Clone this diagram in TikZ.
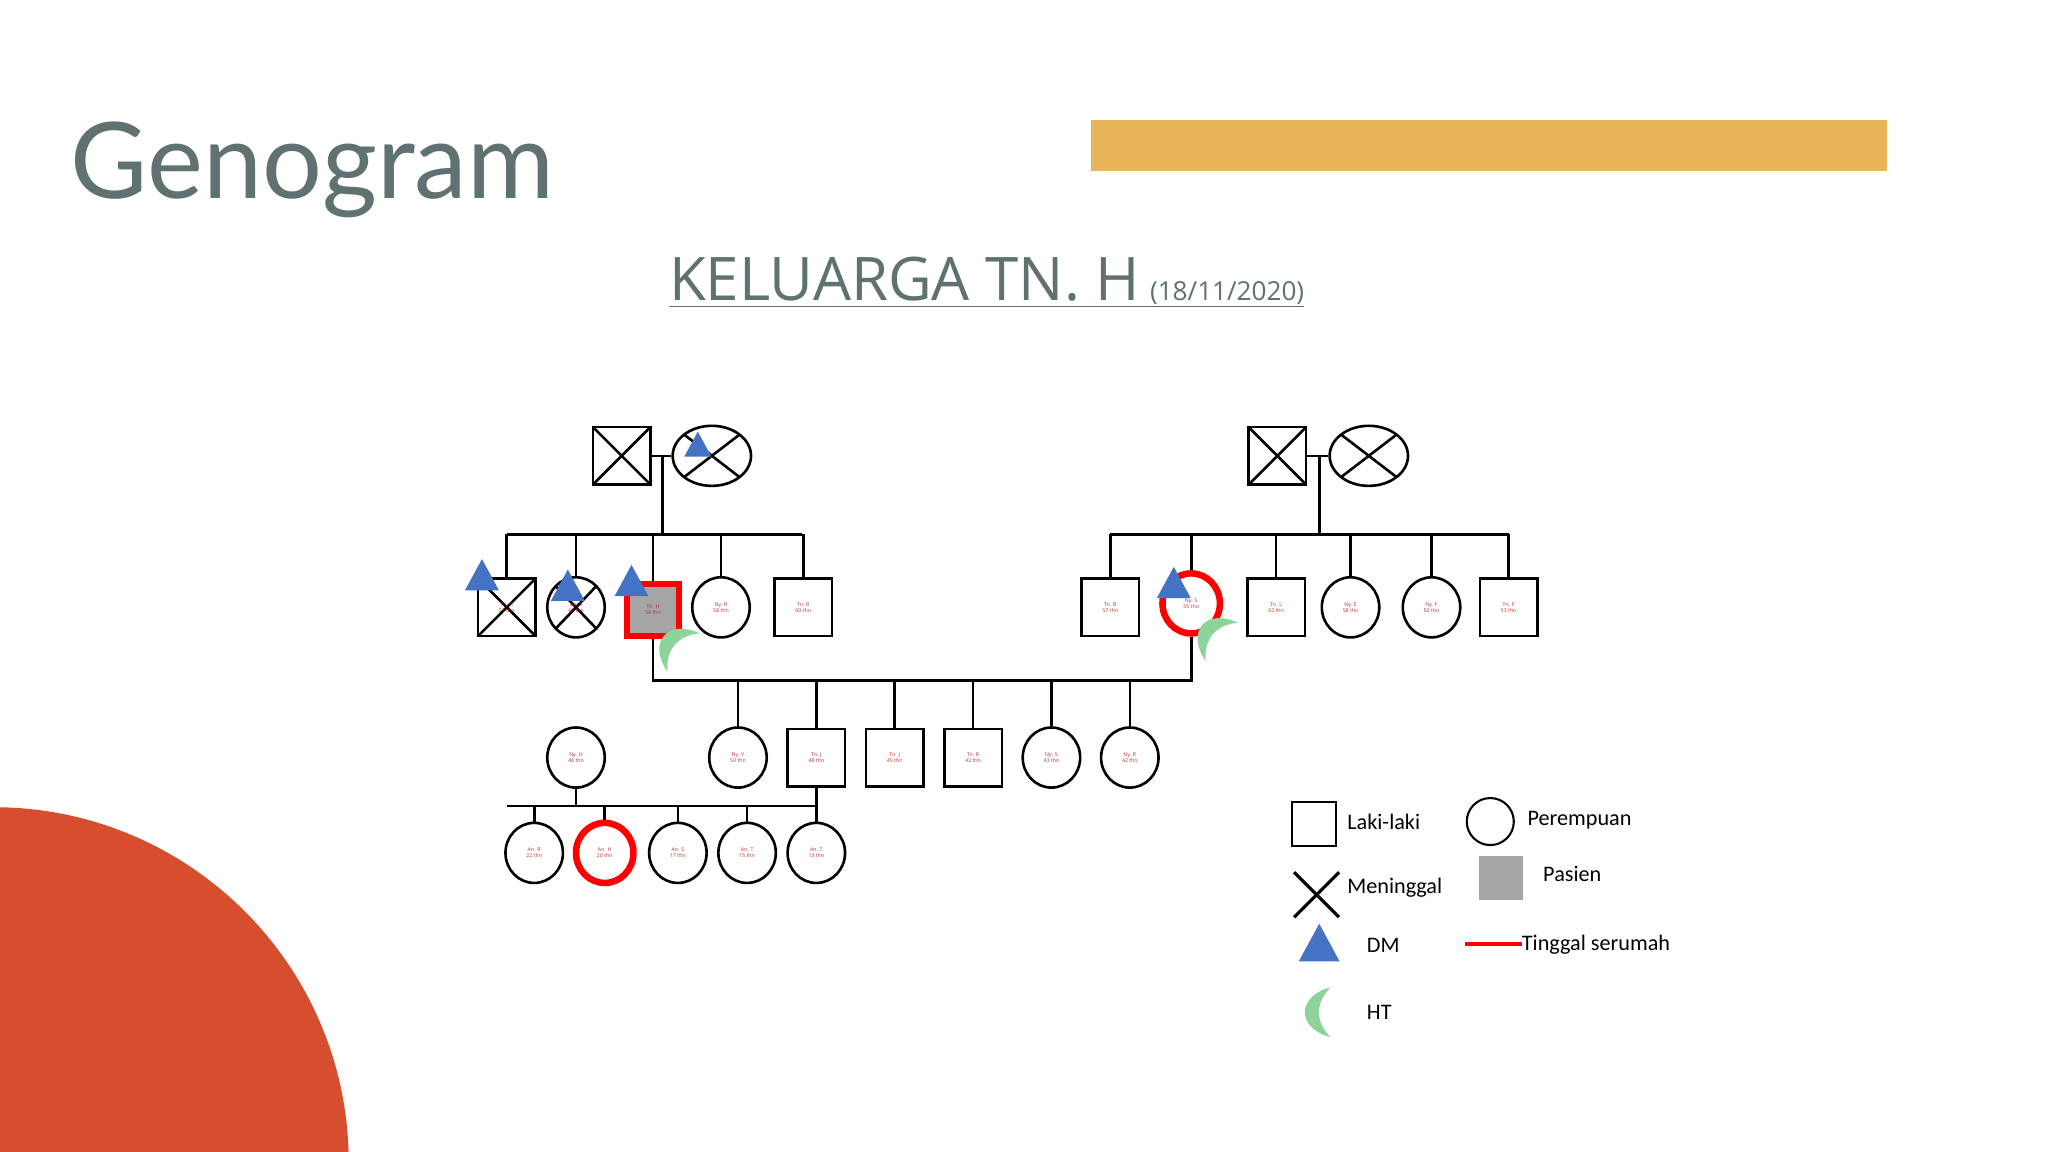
\documentclass[tikz,border=0pt]{standalone}
\usepackage{fontspec}
\setmainfont{Open Sans}
\newfontfamily\legendfont{Carlito}
\newfontfamily\titlefont{Lato}
\usetikzlibrary{shapes.geometric}
\definecolor{slate}{HTML}{5F7170}
\definecolor{bargold}{HTML}{E9B559}
\definecolor{blob}{HTML}{D64E2D}
\definecolor{dmblue}{HTML}{4472C4}
\definecolor{htgreen}{HTML}{8ED39A}
\definecolor{agered}{HTML}{B03030}
\tikzset{
  male/.style={draw,rectangle,line width=2pt,minimum size=44pt,inner sep=0pt,
    font=\fontsize{4}{4.5}\selectfont,text=agered,align=center},
  female/.style={draw,ellipse,line width=2pt,minimum width=44pt,minimum height=46pt,inner sep=0pt,
    font=\fontsize{4}{4.5}\selectfont,text=agered,align=center},
  dead/.style={path picture={\draw[line width=2pt] (path picture bounding box.north west)--(path picture bounding box.south east)
    (path picture bounding box.north east)--(path picture bounding box.south west);}},
  patient/.style={fill=gray!70,draw=red,line width=5pt},
  home/.style={draw=red,line width=5pt},
  tie/.style={line width=2pt},
  legend/.style={font=\legendfont\fontsize{17}{20}\selectfont,anchor=west},
  pics/dm/.style={code={\fill[dmblue] (-13,10)--(13,10)--(0,-14)--cycle;}},
  pics/ht/.style={code={\fill[htgreen] (4,-16) .. controls (-18,-10) and (-18,10) .. (4,16)
    .. controls (-6,6) and (-6,-6) .. (4,-16);}}
}
\begin{document}
\begin{tikzpicture}[x=1pt,y=-1pt]
\useasboundingbox (0,0) rectangle (1568,882);
\fill[white] (0,0) rectangle (1568,882);
% background
\fill[blob] (-5,890) circle (272);
\fill[bargold] (835,92) rectangle (1445,131);
\node[anchor=base west,text=slate,inner sep=0pt,font=\titlefont\fontsize{81}{81}\selectfont] (head) at (54,152) {Genogram};
\node[anchor=base west,text=slate,inner sep=0pt] (title) at (512,230)
  {\underline{\fontsize{46}{46}\selectfont KELUARGA TN. H\,{\fontsize{20}{20}\selectfont(18/11/2020)}}};
% generation 1
\node[male,dead] (gfL) at (476,349) {};
\node[female,dead,minimum width=60pt] (gmL) at (545,349) {};
\node[male,dead] (gfR) at (978,349) {};
\node[female,dead,minimum width=60pt] (gmR) at (1048,349) {};
\pic[scale=0.8] at (gmL.north west) [xshift=14pt,yshift=-12pt] {dm};
\draw[tie] (gfL) -- (gmL) (gfR) -- (gmR);
\coordinate (mL) at (507,349);
\coordinate (mR) at (1010,349);
% generation 2
\node[male,dead] (a1) at (388,465) {Tn. A\\57 thn};
\node[female,dead] (a2) at (441,465) {Ny. S\\46 thn};
\node[male,patient,minimum size=40pt] (pt) at (500,467) {Tn. H\\56 thn};
\node[female] (a4) at (552,465) {Ny. R\\58 thn};
\node[male] (a5) at (615,465) {Tn. R\\60 thn};
\node[male] (b1) at (850,465) {Tn. B\\57 thn};
\node[female,home] (wf) at (912,462) {Ny. S\\55 thn};
\node[male] (b3) at (977,465) {Tn. L\\62 thn};
\node[female] (b4) at (1034,465) {Ny. E\\58 thn};
\node[female] (b5) at (1096,465) {Ny. F\\50 thn};
\node[male] (b6) at (1155,465) {Tn. F\\53 thn};
\pic at (a1.north west) [xshift=4pt] {dm};
\pic at (a2.north west) [xshift=10pt,yshift=-2pt] {dm};
\pic at (pt.north west) [xshift=6pt,yshift=-2pt] {dm};
\pic[rotate=-40,scale=1.2] at (pt.south east) [xshift=2pt,yshift=-6pt] {ht};
\pic at (wf.north west) [xshift=4pt,yshift=-4pt] {dm};
\pic[rotate=-40,scale=1.2] at (wf.south east) [xshift=6pt,yshift=-4pt] {ht};
\draw[tie] (mL) -- (507,409) (388,409) -- (614,409);
\draw[tie] (mR) -- (1010,409) (850,409) -- (1155,409);
\foreach \n in {a1,a2,a4,a5} \draw[tie] (\n.north) -- (\n.north |- 0,409);
\draw[tie] (pt.north) -- (500,409);
\foreach \n in {b1,wf,b3,b4,b5,b6} \draw[tie] (\n.north) -- (\n.north |- 0,409);
% marriage of Tn. H
\draw[tie] (pt.south) -- (500,521) -- (912,521) -- (wf.south);
% generation 3
\node[female] (c1) at (565,580) {Ny. Y\\50 thn};
\node[male] (tj) at (625,580) {Tn. J\\48 thn};
\node[male] (c3) at (685,580) {Tn. J\\45 thn};
\node[male] (c4) at (745,580) {Tn. R\\42 thn};
\node[female] (c5) at (805,580) {Ny. S\\43 thn};
\node[female] (c6) at (865,580) {Ny. R\\42 thn};
\foreach \n in {c1,tj,c3,c4,c5,c6} \draw[tie] (\n.north) -- (\n.north |- 0,521);
\node[female] (nh) at (441,580) {Ny. H\\48 thn};
\draw[tie] (nh.south) -- (441,617) (388,617) -- (625,617) -- (tj.south);
% generation 4
\node[female] (d1) at (409,653) {An. R\\22 thn};
\node[female,home] (d2) at (463,653) {An. H\\20 thn};
\node[female] (d3) at (519,653) {An. S\\17 thn};
\node[female] (d4) at (572,653) {An. T\\15 thn};
\node[female] (d5) at (625,653) {An. T\\13 thn};
\draw[tie] (d1.north) -- (409,617);
\foreach \n in {d2,d3,d4,d5} \draw[tie] (\n.north) -- (\n.north |- 0,617);
% legend
\node[draw,line width=1.6pt,minimum size=34pt] (lgM) at (1006,631) {};
\node[legend] (tM) at (1028,629) {Laki-laki};
\node[draw,circle,line width=1.6pt,minimum size=36pt] (lgF) at (1141,629) {};
\node[legend] (tF) at (1166,628) {Perempuan};
\node[minimum size=34pt] (lgX) at (1008,685) {};
\draw[line width=2.4pt] (lgX.north west) -- (lgX.south east) (lgX.north east) -- (lgX.south west);
\node[legend] (tX) at (1028,680) {Meninggal};
\node[fill=gray!70,minimum size=34pt] (lgP) at (1149,672) {};
\node[legend] (tP) at (1178,669) {Pasien};
\coordinate (lgD) at (1010,724);
\pic[scale=1.2] at (lgD) {dm};
\node[legend] (tD) at (1043,724) {DM};
\coordinate (rs) at (1122,723);
\coordinate (re) at (1165,723);
\draw[red,line width=3pt] (rs) -- (re);
\node[legend,inner sep=0pt] (tR) at (re) {Tinggal serumah};
\coordinate (lgH) at (1014,775);
\pic[scale=1.2] at (lgH) {ht};
\node[legend] (tH) at (1043,775) {HT};
\end{tikzpicture}
\end{document}
